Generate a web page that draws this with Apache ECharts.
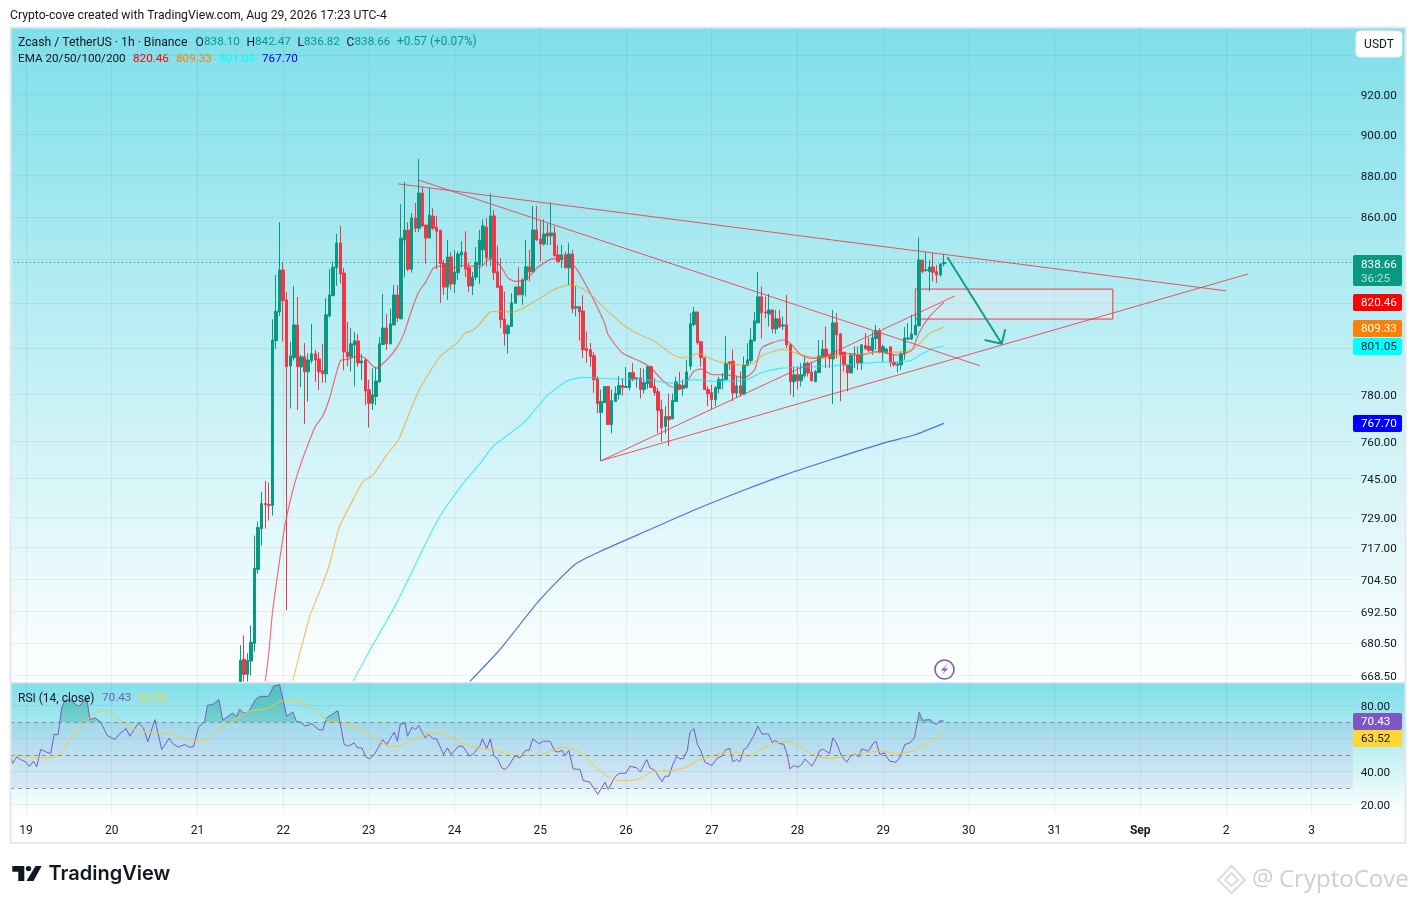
<!DOCTYPE html>
<html><head><meta charset="utf-8">
<style>html,body{margin:0;padding:0;background:#fff}#c{width:1416px;height:904px}</style>
<script src="https://cdn.jsdelivr.net/npm/echarts@6/dist/echarts.min.js"></script>
</head><body><div id="c"></div>
<script>
// hour 0 = Aug 19 00:00. Rows are [open, close, low, high].
const firstCandleHour = 60;
const aug21 = [
[666.2,674.0,666.2,679.6],[674.4,668.8,666.2,683.3],[668.8,674.0,666.2,676.6],[673.7,680.7,668.4,687.0],
[680.3,708.9,677.3,721.8],[708.5,725.0,706.9,727.4],[724.6,734.6,717.9,739.4],[734.6,734.2,724.6,743.9],
[734.2,733.9,727.8,743.1],[733.9,803.7,729.8,812.9],[803.4,816.5,799.7,832.9],[816.2,835.2,814.4,857.5]];
const aug22 = [
[835.2,821.3,803.0,838.7],[821.6,792.0,692.8,825.0],[792.3,796.7,774.0,802.9],[795.9,810.4,794.6,827.9],
[810.4,792.0,773.4,822.9],[791.9,796.3,783.2,797.1],[796.3,789.8,767.5,802.3],[789.8,794.9,776.9,797.9],
[794.6,797.6,793.5,810.9],[797.6,794.9,785.4,799.3],[795.4,789.8,782.0,798.4],[790.2,788.9,785.0,802.0],
[788.9,814.9,785.1,822.4],[814.4,823.8,813.7,835.6],[823.5,836.5,823.3,839.1],[836.2,847.7,828.0,851.9],
[847.7,833.4,829.1,855.6],[833.8,798.4,790.4,836.0],[798.4,796.3,792.0,811.7],[796.3,802.0,789.9,809.0],
[801.5,803.3,783.5,807.2],[803.3,793.6,792.0,806.3],[793.6,794.5,786.3,797.6],[794.9,781.5,775.4,795.4]];
const aug23 = [
[782.0,776.2,766.0,786.3],[776.2,779.8,773.4,791.3],[779.1,785.8,775.4,791.9],[785.4,802.0,785.1,805.0],
[801.7,809.0,801.5,824.3],[809.0,802.0,799.3,815.3],[802.0,810.9,801.8,817.6],[810.4,823.8,810.2,828.3],
[823.8,813.5,811.7,828.3],[813.1,850.0,812.9,866.0],[849.1,853.7,831.9,876.5],[853.7,835.6,834.7,857.5],
[835.6,859.4,834.0,861.8],[859.4,854.6,852.8,866.5],[854.6,871.3,852.8,887.7],[871.3,855.6,855.4,874.2],
[856.1,850.0,838.2,856.1],[850.0,860.8,849.8,873.7],[860.3,854.6,853.7,864.1],[855.1,853.2,835.6,860.3],
[853.7,838.2,820.2,853.7],[838.2,827.4,823.8,839.8],[827.4,841.2,821.6,849.1],[841.2,828.8,826.1,843.5]];
const aug24 = [
[828.8,834.3,824.7,844.4],[834.0,842.6,830.6,843.9],[842.1,843.5,836.5,848.5],[843.5,835.6,831.9,853.2],
[836.5,827.9,825.2,838.7],[827.9,831.9,823.8,834.3],[831.9,838.7,830.6,845.8],[837.6,849.1,828.9,853.8],
[844.5,855.7,837.1,858.8],[855.1,840.8,836.8,859.3],[840.8,860.4,837.1,871.1],[860.4,833.9,830.7,863.2],
[834.4,827.3,826.9,846.4],[827.9,812.7,809.0,840.6],[813.0,806.5,801.2,825.4],[806.5,810.0,797.7,810.9],
[809.7,820.3,809.5,824.6],[820.1,827.5,819.8,827.6],[827.5,823.9,823.7,836.5],[823.9,830.7,819.4,831.5],
[830.7,836.7,823.1,849.1],[836.7,834.4,830.0,844.5],[834.4,853.8,834.1,865.1],[853.8,849.1,848.8,865.1]];
const aug25 = [
[849.6,847.2,839.1,858.5],[847.2,851.9,846.4,858.8],[852.4,851.0,846.8,856.9],[851.0,852.4,846.8,866.7],
[852.4,841.7,841.4,855.7],[842.2,839.0,838.8,846.8],[839.9,842.2,836.1,846.8],[842.2,836.2,836.1,843.7],
[836.2,842.6,828.4,847.8],[842.6,817.6,815.7,844.5],[817.9,818.5,814.2,827.9],[818.5,816.2,803.4,818.9],
[816.6,799.4,795.8,823.7],[799.9,799.0,793.6,807.5],[799.4,796.4,791.9,802.4],[796.8,786.4,780.7,798.3],
[786.8,776.1,771.9,787.9],[772.3,777.0,751.9,782.1],[776.5,783.4,776.4,783.5],[783.4,767.2,767.0,783.5],
[767.2,777.4,763.5,782.1],[777.0,780.4,776.8,783.5],[780.0,783.8,777.8,787.9],[783.8,783.0,779.5,787.1]];
const aug26 = [
[783.0,783.4,782.8,791.9],[783.0,789.4,781.7,789.6],[789.4,786.4,785.7,793.6],[786.8,787.2,782.8,787.3],
[787.2,782.1,778.3,791.4],[782.1,785.1,780.4,791.1],[784.7,792.0,782.4,792.2],[792.0,783.0,782.8,792.4],
[783.4,780.8,779.5,787.1],[781.2,773.2,763.5,782.8],[773.6,765.9,760.0,777.8],[766.4,770.6,763.3,775.0],
[770.6,769.3,758.2,780.4],[769.7,777.4,769.3,780.4],[777.0,785.5,776.8,787.6],[784.2,782.1,781.9,789.8],
[782.5,783.8,779.5,786.4],[783.0,789.7,782.5,795.0],[792.2,810.9,790.7,815.7],[810.6,816.2,809.7,818.4],
[816.2,802.5,801.6,816.2],[802.9,795.9,791.9,802.9],[795.9,782.1,781.9,795.9],[782.1,780.4,775.0,783.5]];
const aug27 = [
[780.8,777.8,773.6,784.2],[777.8,783.0,775.0,783.5],[782.5,786.4,780.4,787.6],[786.0,786.4,782.1,789.2],
[786.4,793.5,786.1,805.3],[794.1,793.2,790.6,794.1],[794.4,780.6,777.1,799.4],[780.6,783.7,778.5,787.8],
[783.7,780.3,779.2,789.9],[780.2,792.6,779.9,796.4],[792.6,795.0,792.1,802.3],[794.7,803.7,793.5,808.9],
[803.4,812.2,803.0,816.3],[811.3,823.0,811.2,834.3],[823.0,815.8,804.4,827.7],[816.2,815.8,813.4,823.1],
[815.3,817.1,809.7,824.3],[817.1,808.6,806.7,817.1],[808.6,813.1,806.4,817.1],[813.1,809.5,809.0,817.1],
[809.9,810.4,808.2,814.1],[810.4,801.6,800.1,823.9],[801.6,785.5,779.9,801.6],[785.5,788.5,778.8,792.1]];
const aug28 = [
[788.5,785.9,782.1,792.1],[785.9,788.5,783.5,793.5],[788.2,793.5,787.1,796.4],[793.5,789.3,787.7,794.2],
[789.6,785.9,785.6,794.2],[785.6,789.8,785.2,790.6],[789.5,796.7,789.2,803.7],[796.4,799.7,795.6,803.7],
[799.7,796.4,791.4,809.7],[797.1,795.6,791.4,797.1],[795.4,811.3,775.9,817.1],[811.3,806.0,795.6,815.6],
[806.4,797.1,777.1,806.7],[798.3,792.8,789.9,798.6],[792.8,789.3,781.3,792.8],[789.3,797.1,789.1,797.9],
[797.1,797.6,791.4,800.9],[797.1,793.6,790.6,800.9],[793.6,801.6,790.6,801.6],[801.3,799.8,799.4,806.7],
[800.9,799.1,798.6,804.9],[799.1,804.6,797.1,807.5],[804.3,807.8,799.4,810.4],[807.8,798.3,797.9,808.9]];
const aug29 = [
[798.3,800.7,794.2,801.6],[798.0,799.7,797.7,800.1],[800.7,793.9,791.8,800.7],[793.9,792.8,792.1,797.1],
[792.6,793.1,789.5,794.2],[792.8,797.6,790.6,798.6],[797.6,804.6,795.0,809.4],[804.1,804.6,803.7,811.2],
[804.1,806.4,803.7,815.0],[806.0,810.1,805.8,815.6],[810.0,839.8,809.8,850.4],[839.8,834.5,833.7,839.8],
[835.0,835.3,834.5,843.4],[834.5,836.6,825.5,839.8],[836.6,834.2,829.9,843.0],[834.4,833.0,829.2,837.5],
[833.0,838.0,832.2,838.3],[838.10,838.66,836.82,842.47]];

const ema20Hours = [67,68,69,72,73,75,77,79,81,83,85,88,90,93,95,98,101,104,106,108,110,112,114,116,119,123,127,130,133,135,137,140,143,147,151,154,158,162,163,167,172,175,178,181,184,187,189,192,194,198,201,204,206,212,214,217,220,224,228,234,238,244,248,250,253,257];
const ema20Values= [666.4,676.8,691.8,721.5,729.5,741.6,751,759,766.4,770.6,778.4,794.6,795.2,796.7,795.7,791.3,794.9,800.8,807.3,817.1,825.3,829.9,836,837.1,836,837.5,836.5,840.6,836.8,831.5,830,830.7,836,840.2,840.6,836.1,824.6,811.2,806,798,794.3,791.5,786.4,783.2,783.5,790,791,788.6,788.5,788.2,787.1,790.6,800.2,803.7,802.3,797.1,795.6,796.4,798.2,797.1,798.6,797.1,799.1,806.7,814.1,820.46];
const ema50Hours = [74.7,76.7,79.5,80.9,83.2,85.1,87.7,91.6,94.4,97.2,101,104.3,106.6,109.9,115.9,120.6,122.9,124.8,127.1,129.9,132.7,136.5,140.2,143.9,147.6,152.3,155.1,158.8,162.5,167.2,171.9,176.1,180.3,184,188.2,192.4,194.3,199.9,203.6,206.4,212,215.8,220.4,226,231.6,237.2,246.6,249.4,253.1,257];
const ema50Values= [666.4,676.8,690.6,695.6,703.3,711.1,725.1,736.2,743.6,746.3,754.5,760.8,769.2,781.4,796.4,802.3,806.7,807.7,810.9,816.1,816.5,816.1,818.8,822.3,826.1,828.4,827.3,823.1,817.1,810.5,806,803.1,798,795.8,797.7,795,794,792.8,793.5,797.1,799.6,797.9,796.1,796.7,797.1,798.2,798.6,800.9,806.7,809.33];
const ema100Hours = [91.6,95.9,103.8,111.3,115.9,122.5,127.1,130.9,139.3,145.8,151.4,156,164.4,173.7,180.3,186.9,192.4,201.8,205.6,211.2,220.4,229.8,237.2,247.5,250.3,254,257];
const ema100Values= [666.4,676.8,695.6,716.9,729.5,743,750.9,758.2,767.9,779.3,785.7,787.4,786.7,786.4,784.9,786.4,785.7,786.4,789.2,791.3,792,792.8,793.8,794.5,797.1,800,801.05];
const ema200Hours = [124.3,132.7,143.9,153.7,160.7,174.7,187.3,201.3,212.5,225.1,240.5,248.9,257];
const ema200Values= [666.2,678,696.8,710.4,715.5,724.2,732.1,740.2,746.3,752.4,759.6,762.9,767.7];

const rsiHours = [-4.4,-3.8,-2.6,-1.5,0,.9,2.1,3,4.1,5.8,6.9,7.9,9,10,10.9,12.3,13.4,14.7,15.8,17,17.9,19.3,20.7,21.7,22.8,24.9,26,28,29.1,31.5,32.9,34.1,36.1,38,40.1,41.1,42.7,44.4,45.6,46.9,48.3,50,50.8,52.5,54,55.1,57.8,59,59.8,60.9,62.3,64.2,65.5,67.9,69.3,71,72.1,73,74.7,75.8,76.8,78.2,80,81.9,83.1,84.2,87.3,89.1,90.3,91.9,92.8,94,95.2,96.2,97.5,99.9,101,102.1,103.1,104,104.8,106.2,106.8,108.1,109.1,109.9,111.8,112.7,114.1,115,116.9,118,119,121.1,122.3,124.2,125.3,127.2,
127.8,129,130,131,132,133.2,134.1,135,136.9,138.3,139.9,140.9,141.9,143.7,144.8,146.7,148.1,149,150.1,150.9,152,153.2,155.1,156,157.9,160.1,162.1,163,164.9,166.1,168,169.1,171,172,173.8,174.7,176.1,178.1,178.9,180,181.1,182.2,183.1,184.1,185.2,185.9,187,188,188.9,190.1,192,193.6,194.8,196,197.1,197.9,199,199.9,201,201.8,203.7,204.9,206.1,207.9,209,209.7,211.1,212.1,213,213.9,215.1,216.1,217.2,218.1,220,220.9,222.3,223.3,225,225.9,226.8,228.4,229.8,231.2,232.3,233.1,234,235.9,237.1,238,239.1,240.3,241.8,243.6,244.6,246.1,247.5,248.8,250.1,251,253.1,254.1,255,255.9,257];
const rsiValues = [49.6,44.8,48.8,47.2,45.6,43,46.2,42.8,53.3,51.7,50.8,62.5,62.3,78.5,83.1,83.5,81.5,79.5,81.5,84.5,71.4,72.4,70.4,66.4,61.7,59.3,62.3,66,61.3,69.4,66.4,57.9,71.4,53.3,60.1,56.9,54.7,56.3,54.7,54.9,66.8,70.2,80.1,80.9,83.5,71,75.4,73.4,77.9,75.4,76,83.5,85.5,85.5,91.6,92.6,82.5,73.4,76,70,70,67.4,69,65.4,65,72.4,76.9,56.3,55.3,57.3,54.3,54.3,48.8,47.6,50.2,59.3,56.3,60.3,63.8,58.3,68.8,69,61.3,66.8,65.4,68,60.3,62.3,59.7,59.7,50.2,54.3,50.2,55.3,55.3,49.2,50.8,55.9,
59.7,53.9,59.7,49.6,47.8,42.2,41.2,42.8,49.6,48.2,52.8,52.8,59.7,56.7,58.3,58.3,52.3,51.7,52.8,49.6,52.8,41.6,41.2,34.5,33.5,26.1,33.5,29.1,36.7,38.9,38.9,43.1,42.2,39.6,47.2,42.2,40.6,33.7,37.1,37.1,44.2,49,47.6,47.8,52.9,63.8,66,56.3,52.9,45.6,43.6,48.2,49.2,53.3,53.9,45.8,47.2,45.8,53.3,54.3,61.3,67.4,62.7,62.7,57.3,58.9,56.7,56.7,51.3,41.6,43.6,42.6,44.2,47.6,43.2,46.2,52.9,53.3,50.8,60.3,57.7,49.2,45.6,50.2,50.4,48.8,53.7,52.3,56.7,58.3,50.2,51.3,46.2,45.6,48.2,56.3,57.3,60.7,75.8,71,71.4,69.4,68.4,70.8,70.43];
const rsiMaHours = [-4.4,-1.2,2.1,6.7,9,11.4,14.2,17.2,20.3,22.6,24.9,27.7,30.5,34.3,39.4,44.1,47.3,49.9,53.4,58.1,62.3,67.4,72.1,75.8,80.5,84.7,88.9,93.6,98.2,102,104.8,108.5,112.2,115,118.8,123.4,127.1,130.8,135.5,141.1,144.8,148.6,151.8,155.1,159.3,163,166.3,169.1,172.4,174.7,177.5,181.3,185,187.8,191.5,195.3,199,202.3,206.5,210.2,213.5,216.7,220.9,225.1,229.8,234.5,239.1,243.8,248.5,252.2,255,257];
const rsiMaValues= [49.2,49.6,48.2,48.2,49.6,56.3,65.4,71.4,76,77.1,73.4,68.8,65.4,63.8,62.9,60.3,58.3,58.7,65.4,70.8,76.3,78.1,83.1,82.9,77.5,71,69.4,65.4,59.3,54.9,55.7,59.3,62.9,63.3,60.9,55.9,53.9,53.3,50.2,49.6,50.2,54.1,54.5,51.7,42.8,36.7,34.5,34.5,36.1,39.2,40.2,40.8,42.6,46.6,48.8,51.7,51.7,49.2,54.3,57.3,58.1,55.3,49.6,47.8,49.6,51.3,52.3,50.8,52.5,56.9,60.9,63.52];

// hand-drawn chart objects: [hour, price]
const trendTop = [[104.2,875.7],[336,825.7]];
const trendDown = [[109.8,877.6],[267.1,792.4]];
const trendRiseSteep = [[161,752.1],[260.1,823.4]];
const trendRiseLong = [[161,752.1],[342.2,833.4]];
const arrowShaft = [[258,841.1],[273.2,802]];
const arrowHead = [[268.4,803.7],[273.2,802],[274.2,808.5]];
const boxCorners = [[249,826.5],[304.3,813]];

const priceTicks = [940,920,900,880,860,840,820,800,780,760,745,729,717,704.5,692.5,680.5,668.5];
const priceLabels = [920,900,880,860,780,760,745,729,717,704.5,692.5,680.5,668.5];
const rsiTicks = [80,60,40,20];
const rsiLabels = [80,40,20];
const dayLabels = ['19','20','21','22','23','24','25','26','27','28','29','30','31','Sep','2','3'];
const lastClose = 838.66;
const emaLast = [820.46,809.33,801.05,767.70];
const rsiLast = [70.43,63.52];

const FONT = 'Roboto, "Liberation Sans", sans-serif';
const UP='#089981', DOWN='#f23645';

// Axis mapping
const hourMin=-4.5, hourMax=371.5;
const categories=[];
for(let i=0;i<376;i++){const h=i+hourMin+.5; categories.push(h>=0&&h%24===0?(dayLabels[h/24]||''):'');}
const candleRows=[].concat(aug21,aug22,aug23,aug24,aug25,aug26,aug27,aug28,aug29);
const candles=categories.map((_,i)=>{const r=candleRows[i+hourMin+.5-firstCandleHour]; return r||['-','-','-','-'];});
const zip=(a,b)=>a.map((x,i)=>[x,b[i]]);

const hAxis=(gridIndex)=>({type:'value',gridIndex,min:hourMin,max:hourMax,show:false,splitLine:{show:false}});
const isDay=(idx,v)=>v!=='';
const gridColor='rgba(42,46,57,0.07)';
const catAxis=(gridIndex,showLabel)=>({type:'category',gridIndex,data:categories,boundaryGap:true,
  axisLine:{show:false},axisTick:{show:false},
  splitLine:{show:true,interval:isDay,alignWithLabel:true,lineStyle:{color:gridColor,width:1}},
  axisLabel:{show:showLabel,interval:isDay,margin:10,fontFamily:FONT,fontSize:12,color:'#131722',
    formatter:v=>v==='Sep'?'{b|Sep}':v,rich:{b:{fontWeight:'bold',fontFamily:FONT,fontSize:12,color:'#131722'}}}});
const lineS=(name,xi,yi,data,color,width,op,extra)=>Object.assign({name,type:'line',xAxisIndex:xi,yAxisIndex:yi,data,symbol:'none',silent:true,animation:false,
  lineStyle:{color,width,opacity:op}},extra||{});
const valueLabel=(labels)=>({customValues:labels,margin:8,fontFamily:FONT,fontSize:11.7,color:'#131722',
   formatter:v=>'{n|'+Number(v).toFixed(2)+'}',
   rich:{n:{fontFamily:FONT,fontSize:11.7,color:'#131722',padding:[3.5,0,0,0]}}});

const option={animation:false,backgroundColor:'#ffffff',
 grid:[{left:9.93,top:28,width:1342.86,height:654},{left:9.93,top:683,width:1342.86,height:132},{left:9.93,top:683,width:1342.86,height:38.94}],
 xAxis:[catAxis(0,false),catAxis(1,true),hAxis(0),hAxis(1),hAxis(2)],
 yAxis:[
  {type:'log',gridIndex:0,min:666,max:954,position:'right',axisLine:{show:false},
   axisTick:{show:false,customValues:priceTicks},splitLine:{show:true,lineStyle:{color:gridColor,width:1}},
   axisLabel:valueLabel(priceLabels)},
  {type:'value',gridIndex:1,min:13.6,max:93.6,position:'right',axisLine:{show:false},
   axisTick:{show:false,customValues:rsiTicks},splitLine:{show:true,lineStyle:{color:gridColor,width:1}},
   axisLabel:valueLabel(rsiLabels)},
  {type:'value',gridIndex:2,min:70,max:93.6,show:false,splitLine:{show:false}}
 ],
 series:[
  {type:'candlestick',xAxisIndex:0,yAxisIndex:0,data:candles,barWidth:3,silent:true,animation:false,clip:true,
   itemStyle:{color:UP,color0:DOWN,borderColor:UP,borderColor0:DOWN,borderWidth:1},
   markLine:{silent:true,animation:false,symbol:'none',label:{show:false},lineStyle:{color:UP,type:[1,3],width:1},data:[{yAxis:lastClose}]}},
  lineS('EMA 20',2,0,zip(ema20Hours,ema20Values),'#f23645',1.2,.72,{smooth:.2}),
  lineS('EMA 50',2,0,zip(ema50Hours,ema50Values),'#ff9800',1.2,.6,{smooth:.2}),
  lineS('EMA 100',2,0,zip(ema100Hours,ema100Values),'#00e5ff',1.2,.65,{smooth:.2}),
  lineS('EMA 200',2,0,zip(ema200Hours,ema200Values),'#2f4fe0',1.2,.8,{smooth:.2}),
  lineS('top',2,0,trendTop,'#f23645',1,.85,{markArea:{silent:true,animation:false,
     data:[[{coord:boxCorners[0],itemStyle:{color:'rgba(228,236,240,0.42)',borderColor:'#f23645',borderWidth:1,opacity:1}},{coord:boxCorners[1]}]]}}),
  lineS('down',2,0,trendDown,'#f23645',1,.85),
  lineS('riseSteep',2,0,trendRiseSteep,'#f23645',1,.85),
  lineS('riseLong',2,0,trendRiseLong,'#f23645',1,.85),
  lineS('arrow',2,0,arrowShaft,'#089981',2,.95),
  lineS('arrowHead',2,0,arrowHead,'#089981',2,.95),
  lineS('rsiFill',4,2,zip(rsiHours,rsiValues),'#089981',0,0,{areaStyle:{color:{type:'linear',x:0,y:0,x2:0,y2:1,colorStops:[{offset:0,color:'rgba(8,153,129,0.62)'},{offset:1,color:'rgba(8,153,129,0.06)'}]}}}),
  lineS('RSI',3,1,zip(rsiHours,rsiValues),'#7e57c2',1,1,{
    markArea:{silent:true,animation:false,itemStyle:{color:'rgba(126,87,194,0.1)'},data:[[{yAxis:70},{yAxis:30}]]},
    markLine:{silent:true,animation:false,symbol:'none',label:{show:false},lineStyle:{color:'#787b86',type:[4,4],width:1,opacity:.85},data:[{yAxis:70},{yAxis:50},{yAxis:30}]}}),
  lineS('RSI MA',3,1,zip(rsiMaHours,rsiMaValues),'#fdc82f',1,1,{smooth:.2})
 ]};

const chart=echarts.init(document.getElementById('c'),null,{renderer:'canvas'});
chart.setOption(option);

// overlay furniture
const paneGrad={type:'linear',x:0,y:0,x2:0,y2:1,colorStops:[{offset:0,color:'#7fdfea'},{offset:1,color:'#ffffff'}]};
const T=(x,y,text,fill,size,o)=>Object.assign({type:'text',x,y,z:200,silent:true,style:Object.assign({text,fill,font:(size||12)+'px '+FONT,verticalAlign:'middle',align:'left'},o||{})},{});
const N=(x,y,text,fill)=>T(x,y,text,fill,11.7);
const priceY=v=>chart.convertToPixel({yAxisIndex:0},v);
const badge=(cy,h,color,text,fg)=>[
  {type:'rect',z:190,silent:true,shape:{x:1353,y:cy-h/2,width:49,height:h,r:2},style:{fill:color}},
  N(1361,cy+1,text,fg)];
const teal='#089981';
const els=[
 {type:'rect',z:-10,silent:true,shape:{x:11,y:28,width:1394,height:654},style:{fill:paneGrad}},
 {type:'rect',z:-10,silent:true,shape:{x:11,y:683,width:1394,height:132},style:{fill:paneGrad}},
 {type:'rect',z:150,silent:true,shape:{x:10.5,y:27.5,width:1395,height:815.5},style:{fill:'none',stroke:'#e6e8ee',lineWidth:2}},
 {type:'rect',z:150,silent:true,shape:{x:10,y:682,width:1396,height:1.5},style:{fill:'#e0e3eb'}},
 T(10,15.5,'Crypto-cove created with TradingView.com, Aug 29, 2026 17:23 UTC-4','#131722',12.2),
 T(18,42.5,'Zcash / TetherUS · 1h · Binance','#131722',12.2),
 T(195.5,42.5,'O','#131722'),N(204,42.5,'838.10',teal),
 T(246.5,42.5,'H','#131722'),N(255,42.5,'842.47',teal),
 T(297.5,42.5,'L','#131722'),N(304,42.5,'836.82',teal),
 T(346.5,42.5,'C','#131722'),N(354.5,42.5,'838.66',teal),
 T(397,42.5,'+0.57 (+0.07%)',teal,11.9),
 T(18,59.5,'EMA 20/50/100/200','#131722',11.7),
 N(133,59.5,emaLast[0].toFixed(2),'#ff0000'),N(176,59.5,emaLast[1].toFixed(2),'#ff7f00'),
 N(219,59.5,emaLast[2].toFixed(2),'#00ffff'),N(262,59.5,emaLast[3].toFixed(2),'#0000ff'),
 T(18,698.5,'RSI (14, close)','#131722',12),N(102,698.5,rsiLast[0].toFixed(2),'#7e57c2'),N(139,698.5,rsiLast[1].toFixed(2),'#fdd835'),
 {type:'rect',z:190,silent:true,shape:{x:1356,y:31,width:46,height:26,r:4},style:{fill:'#ffffff',stroke:'#eef0f3'}},
 T(1379,45,'USDT','#131722',12,{align:'center'}),
 {type:'rect',z:190,silent:true,shape:{x:1353,y:255,width:49,height:31,r:2},style:{fill:UP}},
 N(1361,265,lastClose.toFixed(2),'#ffffff'),N(1361,279,'36:25','rgba(255,255,255,0.7)'),
 ...badge(priceY(emaLast[0]),17,'#ff0000',emaLast[0].toFixed(2),'#ffffff'),
 ...badge(328.5,17,'#ff7f00',emaLast[1].toFixed(2),'#ffffff'),
 ...badge(346.5,17,'#00ffff',emaLast[2].toFixed(2),'#131722'),
 ...badge(priceY(emaLast[3]),17,'#0000ff',emaLast[3].toFixed(2),'#ffffff'),
 ...badge(721.5,17,'#7e57c2',rsiLast[0].toFixed(2),'#ffffff'),
 ...badge(738.5,17,'#fdd835',rsiLast[1].toFixed(2),'#131722'),
 {type:'circle',z:180,silent:true,shape:{cx:944.5,cy:669.5,r:9.5},style:{fill:'#fffdf7',stroke:'#7e57c2',lineWidth:1.6}},
 {type:'polygon',z:181,silent:true,shape:{points:[[948,663],[941,670.5],[945,670.5],[941,676],[948,668.5],[944,668.5]]},style:{fill:'#7e57c2'}},
 {type:'polygon',z:200,silent:true,shape:{points:[[12.3,866],[24.3,866],[24.3,881],[18.3,881],[18.3,871.7],[12.3,871.7]]},style:{fill:'#131722'}},
 {type:'circle',z:200,silent:true,shape:{cx:28.5,cy:868.6,r:2.7},style:{fill:'#131722'}},
 {type:'polygon',z:200,silent:true,shape:{points:[[35.5,866],[41.7,866],[33.5,881],[26.5,881]]},style:{fill:'#131722'}},
 {type:'text',x:48.5,y:874,z:200,silent:true,style:{text:'TradingView',fill:'#131722',font:'600 20px Inter, Roboto, sans-serif',verticalAlign:'middle'}},
 {type:'polygon',z:200,silent:true,shape:{points:[[1231.5,866],[1245,880],[1231.5,893],[1218,880]]},style:{fill:'none',stroke:'#dcdcdc',lineWidth:2}},
 {type:'polygon',z:200,silent:true,shape:{points:[[1231.5,873],[1238,880],[1231.5,886],[1225,880]]},style:{fill:'none',stroke:'#dcdcdc',lineWidth:2}},
 {type:'text',x:1252,y:879,z:200,silent:true,style:{text:'@',fill:'#cfcfcf',font:'24px "Open Sans", sans-serif',verticalAlign:'middle'}},
 {type:'text',x:1279,y:880,z:200,silent:true,style:{text:'CryptoCove',fill:'#cfcfcf',font:'24px "Open Sans", sans-serif',verticalAlign:'middle'}}
];
chart.setOption({graphic:{elements:els}});
</script></body></html>
